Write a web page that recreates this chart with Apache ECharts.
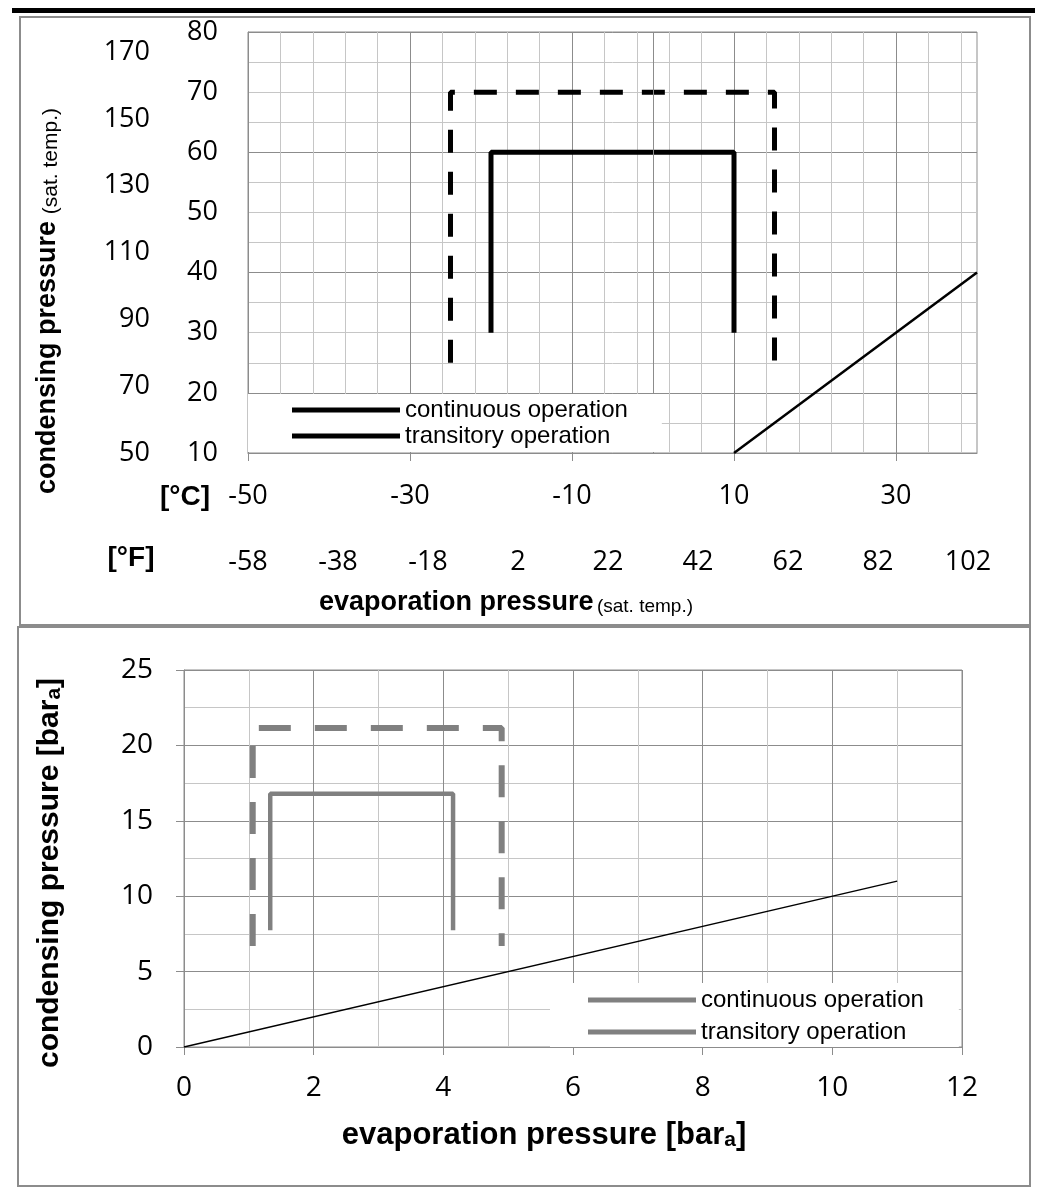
<!DOCTYPE html>
<html>
<head>
<meta charset="utf-8">
<script src="https://cdn.jsdelivr.net/npm/echarts@6/dist/echarts.min.js"></script>
<style>
html,body{margin:0;padding:0;background:#fff;}
#chart{width:1063px;height:1200px;}
</style>
</head>
<body>
<div id="chart"></div>
<script>
// ---------- Top chart: saturation temperatures ----------
const topXTicksC = [-50, -30, -10, 10, 30];
const topXTicksF = [-58, -38, -18, 2, 22, 42, 62, 82, 102];
const topYTicksC = [10, 20, 30, 40, 50, 60, 70, 80];
const topYTicksF = [50, 70, 90, 110, 130, 150, 170];
const topContX = [-25, -25, 15, 15];
const topContY = [25, 70, 70, 25];
const topTransX = [-20, -20, 10, 10];
const topTransY = [30, 60, 60, 30];
const topLimitX = [10, 40];
const topLimitY = [10, 40];

// ---------- Bottom chart: absolute pressures ----------
const botXTicks = [0, 2, 4, 6, 8, 10, 12];
const botYTicks = [0, 5, 10, 15, 20, 25];
const botContX = [1.06, 1.06, 4.9, 4.9];
const botContY = [6.7, 21.15, 21.15, 6.7];
const botTransX = [1.33, 1.33, 4.15, 4.15];
const botTransY = [7.75, 16.8, 16.8, 7.75];
const botLimitX = [0, 11];
const botLimitY = [0, 11];

const seriesNames = ['continuous operation', 'transitory operation'];

const fToC = f => (f - 32) * 5 / 9;
const cToF = c => Math.round(c * 9 / 5 + 32);
const pairs = (xs, ys) => xs.map((x, i) => [x, ys[i]]);

const DARK = '#8c8c8c';
const LIGHT = '#c6c6c6';
const NUM_FONT = 'Open Sans';
const TXT_FONT = 'Liberation Sans';

const chart = echarts.init(document.getElementById('chart'), null, {renderer: 'canvas'});

const hidden = {axisLine: {show: false, onZero: false}, axisTick: {show: false}, axisLabel: {show: false}, splitLine: {show: false}};

const option = {
  animation: false,
  backgroundColor: '#fff',
  grid: [
    {left: 248, top: 32, width: 729, height: 421, show: true, borderColor: DARK, borderWidth: 1, containLabel: false, outerBoundsMode: 'none'},
    {left: 184, top: 670, width: 778, height: 377, show: true, borderColor: DARK, borderWidth: 1, containLabel: false, outerBoundsMode: 'none'}
  ],
  xAxis: [
    { // 0: top, °C data axis with minor grid
      gridIndex: 0, type: 'value', position: 'bottom', min: -50, max: 40, interval: 4,
      axisLine: {show: true, onZero: false, lineStyle: {color: DARK, width: 1}},
      axisTick: {show: false},
      axisLabel: {customValues: topXTicksC, margin: 30, fontSize: 27, fontFamily: NUM_FONT, color: '#000'},
      splitLine: {show: true, lineStyle: {color: LIGHT, width: 1}}
    },
    Object.assign({}, hidden, { // 1: top, major grid + ticks
      gridIndex: 0, type: 'value', position: 'bottom', min: -50, max: 40,
      axisTick: {show: true, customValues: topXTicksC, length: 8, lineStyle: {color: DARK}},
      splitLine: {show: true, lineStyle: {color: DARK, width: 1}}
    }),
    Object.assign({}, hidden, { // 2: top, °F labels
      gridIndex: 0, type: 'value', position: 'bottom', offset: 66, min: -50, max: 40,
      axisLabel: {show: true, customValues: topXTicksF.map(fToC), formatter: v => String(cToF(v)), margin: 30, fontSize: 27, fontFamily: NUM_FONT, color: '#000'}
    }),
    { // 3: bottom, data axis with minor grid
      gridIndex: 1, type: 'value', position: 'bottom', min: 0, max: 12, interval: 1,
      axisLine: {show: true, onZero: false, lineStyle: {color: DARK, width: 1}},
      axisTick: {show: false},
      axisLabel: {customValues: botXTicks, margin: 27, fontSize: 28, fontFamily: NUM_FONT, color: '#000'},
      splitLine: {show: true, lineStyle: {color: LIGHT, width: 1}}
    },
    Object.assign({}, hidden, { // 4: bottom, major grid + ticks
      gridIndex: 1, type: 'value', position: 'bottom', min: 0, max: 12,
      axisTick: {show: true, customValues: botXTicks, length: 8, lineStyle: {color: DARK}},
      splitLine: {show: true, lineStyle: {color: DARK, width: 1}}
    })
  ],
  yAxis: [
    { // 0: top, °C data axis with minor grid
      gridIndex: 0, type: 'value', position: 'left', min: 10, max: 80, interval: 5,
      axisLine: {show: true, onZero: false, lineStyle: {color: DARK, width: 1}},
      axisTick: {show: false},
      axisLabel: {customValues: topYTicksC, margin: 30, fontSize: 27, fontFamily: NUM_FONT, color: '#000'},
      splitLine: {show: true, lineStyle: {color: LIGHT, width: 1}}
    },
    Object.assign({}, hidden, { // 1: top, major grid every 20
      gridIndex: 0, type: 'value', position: 'left', min: 10, max: 80, splitNumber: 3, minInterval: 20, maxInterval: 20,
      splitLine: {show: true, lineStyle: {color: DARK, width: 1}}
    }),
    Object.assign({}, hidden, { // 2: top, °F labels
      gridIndex: 0, type: 'value', position: 'left', offset: 68, min: 10, max: 80,
      axisLabel: {show: true, customValues: topYTicksF.map(fToC), formatter: v => String(cToF(v)), margin: 30, fontSize: 27, fontFamily: NUM_FONT, color: '#000'}
    }),
    { // 3: bottom, data axis with minor grid
      gridIndex: 1, type: 'value', position: 'left', min: 0, max: 25, interval: 2.5,
      axisLine: {show: true, onZero: false, lineStyle: {color: DARK, width: 1}},
      axisTick: {show: false},
      axisLabel: {customValues: botYTicks, margin: 31, fontSize: 28, fontFamily: NUM_FONT, color: '#000'},
      splitLine: {show: true, lineStyle: {color: LIGHT, width: 1}}
    },
    Object.assign({}, hidden, { // 4: bottom, major grid + ticks
      gridIndex: 1, type: 'value', position: 'left', min: 0, max: 25,
      axisTick: {show: true, customValues: botYTicks, length: 8, lineStyle: {color: DARK}},
      splitLine: {show: true, lineStyle: {color: DARK, width: 1}}
    })
  ],
  legend: [
    {
      left: 248, top: 394, orient: 'vertical', backgroundColor: '#fff',
      padding: [4, 34, 4, 44], itemWidth: 108, itemHeight: 5, itemGap: 2,
      selectedMode: false, z: 10, icon: 'rect',
      textStyle: {fontSize: 24, fontFamily: TXT_FONT, color: '#000', lineHeight: 24},
      data: seriesNames.map(n => ({name: n, icon: 'rect', itemStyle: {color: '#000', borderWidth: 0}}))
    },
    {
      left: 550, top: 983, orient: 'vertical', backgroundColor: '#fff',
      padding: [5, 35, 3, 38], itemWidth: 108, itemHeight: 5, itemGap: 8,
      selectedMode: false, z: 10, icon: 'rect',
      textStyle: {fontSize: 24, fontFamily: TXT_FONT, color: '#000', lineHeight: 24},
      data: seriesNames.map(n => ({name: n, icon: 'rect', itemStyle: {color: '#808080', borderWidth: 0}}))
    }
  ],
  series: [
    {
      name: seriesNames[0], type: 'line', xAxisIndex: 0, yAxisIndex: 0,
      data: pairs(topContX, topContY), symbol: 'none', showSymbol: false,
      lineStyle: {color: '#000', width: 5, type: [23, 19]}, itemStyle: {color: '#000'}
    },
    {
      name: seriesNames[1], type: 'line', xAxisIndex: 0, yAxisIndex: 0,
      data: pairs(topTransX, topTransY), symbol: 'none', showSymbol: false,
      lineStyle: {color: '#000', width: 5, type: 'solid'}, itemStyle: {color: '#000'}
    },
    {
      name: 'p_cond = p_evap (top)', type: 'line', xAxisIndex: 0, yAxisIndex: 0,
      data: pairs(topLimitX, topLimitY), symbol: 'none', showSymbol: false,
      lineStyle: {color: '#000', width: 2.5}, itemStyle: {color: '#000'},
      markLine: {
        silent: true, symbol: 'none', label: {show: false},
        lineStyle: {color: DARK, width: 1, type: 'solid'},
        data: [{xAxis: 0}]
      }
    },
    {
      name: seriesNames[0], type: 'line', xAxisIndex: 3, yAxisIndex: 3,
      data: pairs(botContX, botContY), symbol: 'none', showSymbol: false,
      lineStyle: {color: '#808080', width: 6, type: [32, 24]}, itemStyle: {color: '#808080'}
    },
    {
      name: seriesNames[1], type: 'line', xAxisIndex: 3, yAxisIndex: 3,
      data: pairs(botTransX, botTransY), symbol: 'none', showSymbol: false,
      lineStyle: {color: '#808080', width: 4.5, type: 'solid'}, itemStyle: {color: '#808080'}
    },
    {
      name: 'p_cond = p_evap (bottom)', type: 'line', xAxisIndex: 3, yAxisIndex: 3,
      data: pairs(botLimitX, botLimitY), symbol: 'none', showSymbol: false,
      lineStyle: {color: '#000', width: 1.5}, itemStyle: {color: '#000'}
    }
  ],
  graphic: [
    {type: 'rect', shape: {x: 12, y: 8, width: 1023, height: 5}, style: {fill: '#000'}},
    {type: 'rect', shape: {x: 20, y: 17, width: 1010, height: 608}, style: {fill: 'none', stroke: DARK, lineWidth: 2}},
    {type: 'rect', shape: {x: 18, y: 627, width: 1012, height: 559}, style: {fill: 'none', stroke: DARK, lineWidth: 2}},
    {
      type: 'text', x: 48, y: 301, rotation: Math.PI / 2,
      style: {
        text: '{b|condensing pressure}  {s|(sat. temp.)}',
        align: 'center', verticalAlign: 'middle', fill: '#000',
        rich: {
          b: {fontSize: 27, fontWeight: 'bold', fontFamily: TXT_FONT, fill: '#000'},
          s: {fontSize: 21, fontFamily: TXT_FONT, fill: '#000', verticalAlign: 'bottom'}
        }
      }
    },
    {
      type: 'text', x: 506, y: 603,
      style: {
        text: '{b|evaporation pressure} {s|(sat. temp.)}',
        align: 'center', verticalAlign: 'middle', fill: '#000',
        rich: {
          b: {fontSize: 27, fontWeight: 'bold', fontFamily: TXT_FONT, fill: '#000'},
          s: {fontSize: 19, fontFamily: TXT_FONT, fill: '#000', verticalAlign: 'bottom'}
        }
      }
    },
    {
      type: 'text', x: 185, y: 497,
      style: {text: '[°C]', align: 'center', verticalAlign: 'middle', fill: '#000', fontSize: 28, fontWeight: 'bold', fontFamily: TXT_FONT}
    },
    {
      type: 'text', x: 131, y: 558,
      style: {text: '[°F]', align: 'center', verticalAlign: 'middle', fill: '#000', fontSize: 28, fontWeight: 'bold', fontFamily: TXT_FONT}
    },
    {
      type: 'text', x: 50, y: 873, rotation: Math.PI / 2,
      style: {
        text: '{b|condensing pressure [bar}{a|a}{b|]}',
        align: 'center', verticalAlign: 'middle', fill: '#000',
        rich: {
          b: {fontSize: 30, fontWeight: 'bold', fontFamily: TXT_FONT, fill: '#000'},
          a: {fontSize: 21, fontWeight: 'bold', fontFamily: TXT_FONT, fill: '#000', verticalAlign: 'bottom'}
        }
      }
    },
    {
      type: 'text', x: 544, y: 1135,
      style: {
        text: '{b|evaporation pressure [bar}{a|a}{b|]}',
        align: 'center', verticalAlign: 'middle', fill: '#000',
        rich: {
          b: {fontSize: 31, fontWeight: 'bold', fontFamily: TXT_FONT, fill: '#000'},
          a: {fontSize: 21, fontWeight: 'bold', fontFamily: TXT_FONT, fill: '#000', verticalAlign: 'bottom'}
        }
      }
    }
  ]
};

chart.setOption(option);
</script>
</body>
</html>
